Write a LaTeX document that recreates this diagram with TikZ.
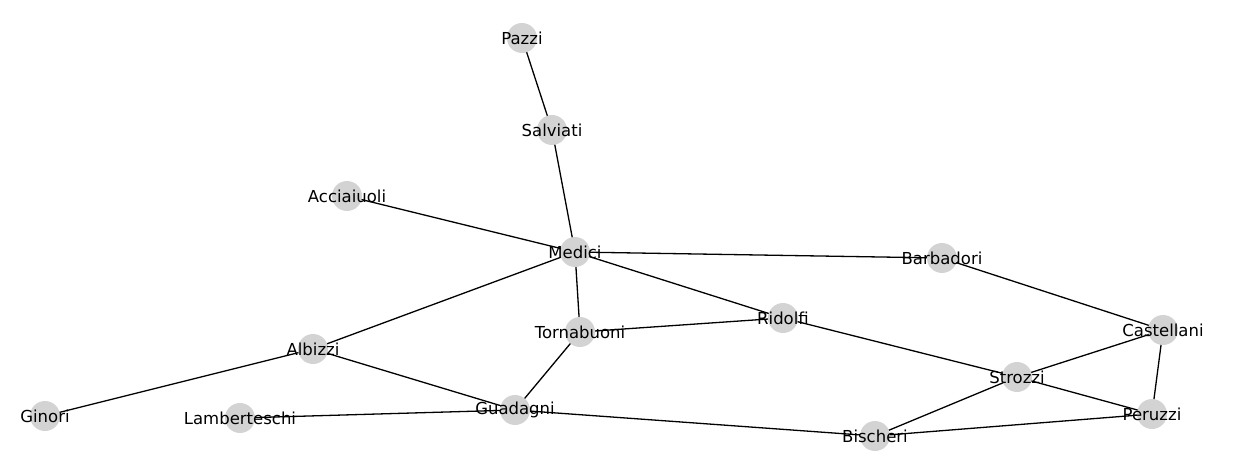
\documentclass[tikz,border=0pt]{standalone}
\usepackage{fontspec}
\setmainfont{DejaVu Sans}
\begin{document}
\begin{tikzpicture}[x=1pt,y=-1pt,
  dot/.style={circle,fill={rgb,255:red,211;green,211;blue,211},draw=none,minimum size=30pt,inner sep=0pt},
  lab/.style={font=\fontsize{16.5}{18}\selectfont,inner sep=0pt},
  edge/.style={line width=1.3pt,black}]
\useasboundingbox (0,0) rectangle (1234,465);
\foreach \n/\x/\y in {Pazzi/522/38,Salviati/552/130,Acciaiuoli/347/196,Medici/575/252,Barbadori/942/258,Ridolfi/783/318,Tornabuoni/580/332,Castellani/1163/330,Albizzi/313/349,Strozzi/1017/377,Ginori/45/416,Lamberteschi/240/418,Guadagni/515/410,Peruzzi/1152/414,Bischeri/875/436}
  \coordinate (\n) at (\x,\y);
\foreach \a/\b in {Pazzi/Salviati,Salviati/Medici,Acciaiuoli/Medici,Medici/Barbadori,Medici/Ridolfi,Medici/Tornabuoni,Medici/Albizzi,Barbadori/Castellani,Ridolfi/Tornabuoni,Ridolfi/Strozzi,Tornabuoni/Guadagni,Albizzi/Guadagni,Albizzi/Ginori,Lamberteschi/Guadagni,Guadagni/Bischeri,Castellani/Strozzi,Castellani/Peruzzi,Strozzi/Peruzzi,Strozzi/Bischeri,Bischeri/Peruzzi}
  \draw[edge] (\a) -- (\b);
\foreach \n in {Pazzi,Salviati,Acciaiuoli,Medici,Barbadori,Ridolfi,Tornabuoni,Castellani,Albizzi,Strozzi,Ginori,Lamberteschi,Guadagni,Peruzzi,Bischeri}{
  \node[dot] (d\n) at (\n) {};
  \node[lab] (l\n) at (\n) {\n};}
\end{tikzpicture}
\end{document}
